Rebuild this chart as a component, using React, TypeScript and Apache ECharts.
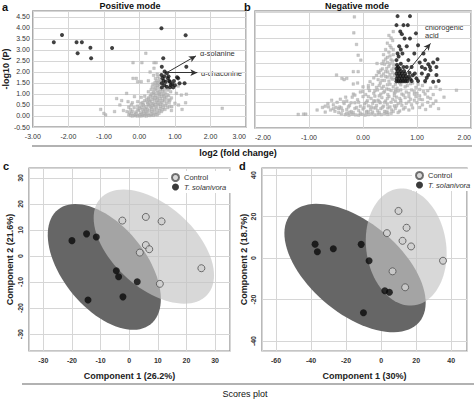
import React, { useEffect, useRef } from "react";
import * as echarts from "echarts";

const FONT = "'Liberation Sans', Arial, sans-serif";

// ---- Panel a: Positive mode (log2 FC, -log10 P)
const posBlack: number[][] = [
  [-2.41, 3.35], [-2.18, 3.68], [-1.77, 3.35], [-1.62, 3.35], [-1.74, 2.85], [-1.38, 3.1], [-1.36, 2.62], [-0.77, 3.09],
  [0.62, 3.99], [1.3, 3.67], [0.67, 2.62], [1.32, 2.24], [0.63, 2.24], [0.71, 2.02], [0.62, 1.86], [0.77, 1.94],
  [0.65, 1.71], [0.8, 1.71], [0.63, 1.49], [0.74, 1.56], [0.86, 1.56], [0.63, 1.3], [0.77, 1.33], [0.97, 1.59],
  [1.09, 1.71], [1.13, 1.49], [1.27, 1.49], [0.84, 1.59], [0.88, 1.41], [0.7, 1.8], [0.92, 1.45], [1.0, 1.4],
  [0.68, 1.6], [0.82, 1.8], [0.95, 1.3], [0.7, 1.4], [0.86, 1.3], [1.06, 1.76],
];
const posGray: number[][] = [
  [-0.3, 0.05], [-0.25, 0.02], [-0.2, 0.0], [-0.15, 0.03], [-0.1, 0.01], [-0.05, 0.0], [0.0, 0.02], [0.05, 0.0], [0.1, 0.03],
  [0.15, 0.01], [0.2, 0.0], [0.25, 0.04], [0.3, 0.02], [0.35, 0.06], [0.4, 0.03], [0.45, 0.08], [0.5, 0.05], [-0.12, 0.08],
  [0.02, 0.07], [0.18, 0.09], [-0.35, 0.2], [-0.28, 0.15], [-0.2, 0.22], [-0.1, 0.18], [-0.02, 0.25], [0.06, 0.15],
  [0.12, 0.22], [0.2, 0.18], [0.28, 0.25], [0.35, 0.2], [0.42, 0.28], [0.5, 0.18], [0.56, 0.25], [0.62, 0.2], [-0.05, 0.3],
  [0.08, 0.3], [0.22, 0.3], [-0.3, 0.4], [-0.15, 0.38], [-0.05, 0.45], [0.05, 0.4], [0.12, 0.48], [0.2, 0.42], [0.27, 0.5],
  [0.33, 0.38], [0.4, 0.45], [0.47, 0.4], [0.53, 0.5], [0.6, 0.42], [0.68, 0.38], [0.15, 0.35], [0.3, 0.44], [-0.2, 0.6],
  [-0.05, 0.65], [0.05, 0.58], [0.15, 0.7], [0.22, 0.62], [0.3, 0.68], [0.36, 0.58], [0.42, 0.72], [0.48, 0.62], [0.55, 0.7],
  [0.62, 0.6], [0.7, 0.68], [0.76, 0.58], [0.4, 0.55], [0.25, 0.75], [0.05, 0.85], [0.15, 0.9], [0.25, 0.82], [0.32, 0.95],
  [0.38, 0.85], [0.45, 0.92], [0.5, 0.82], [0.56, 0.98], [0.62, 0.88], [0.68, 0.95], [0.75, 0.85], [0.82, 0.92], [0.4, 1.0],
  [0.25, 1.1], [0.33, 1.2], [0.4, 1.08], [0.45, 1.25], [0.5, 1.15], [0.55, 1.05], [0.6, 1.22], [0.66, 1.12], [0.72, 1.05],
  [0.8, 1.18], [0.88, 1.1], [0.52, 1.3], [0.38, 1.45], [0.45, 1.38], [0.5, 1.52], [0.55, 1.42], [0.58, 1.58], [0.48, 1.6],
  [0.45, 1.7], [0.52, 1.78], [0.56, 1.68], [0.5, 1.9], [0.4, 1.85], [-1.09, 0.3], [-0.95, 0.05], [-1.0, 0.12], [-0.64, 0.79],
  [-0.36, 1.03], [-0.32, 0.65], [-0.23, 0.5], [-0.14, 0.88], [-0.18, 2.42], [0.07, 2.42], [0.18, 2.85], [0.41, 2.42],
  [0.47, 2.42], [0.41, 2.17], [-0.09, 1.71], [-0.18, 1.71], [-0.05, 1.56], [0.05, 1.56], [2.33, 0.35], [1.32, 0.99],
  [1.09, 1.36], [1.04, 1.03], [1.18, 0.95], [0.86, 0.73], [1.0, 0.58], [0.91, 0.42], [0.8, 0.38], [1.1, 0.5], [1.2, 0.3],
  [0.9, 0.25], [-0.55, 0.5], [-0.7, 0.2], [-0.45, 0.25], [-0.5, 0.7], [0.3, 2.0], [0.25, 1.6], [1.3, 0.6],
  [-0.22, 0.12], [-0.08, 0.1], [0.08, 0.08], [0.22, 0.12], [0.32, 0.1], [0.42, 0.15], [0.55, 0.12], [-0.25, 0.3],
  [0.0, 0.35], [0.18, 0.28], [0.35, 0.3], [0.48, 0.32], [0.58, 0.34], [0.65, 0.28], [0.72, 0.3], [0.1, 0.52], [0.24, 0.55],
  [0.36, 0.48], [0.45, 0.52], [0.58, 0.55], [0.66, 0.5], [0.74, 0.48], [0.1, 0.62], [0.2, 0.75], [0.35, 0.75], [0.5, 0.75],
  [0.6, 0.78], [0.7, 0.78], [0.8, 0.72], [0.3, 0.88], [0.44, 0.82], [0.55, 0.9], [0.7, 0.88], [0.78, 0.98], [0.35, 1.02],
  [0.48, 1.02], [0.62, 1.0], [0.7, 1.2], [0.58, 1.12], [0.42, 1.2], [0.36, 1.32], [0.5, 1.4], [0.44, 1.52], [0.55, 1.5],
  [0.28, 0.62], [0.52, 0.6], [0.64, 0.7], [0.84, 0.62], [0.9, 0.82], [0.78, 1.25], [0.85, 0.45], [0.12, 0.12],
];
const posArrows: number[][] = [[0.77, 1.97, 1.59, 2.73], [0.77, 1.97, 1.63, 1.97]];

// ---- Panel b: Negative mode
const negBlack: number[][] = [
  [0.64, 3.85], [0.87, 3.85], [0.62, 3.5], [0.75, 3.5], [0.83, 3.5], [0.98, 3.18], [0.77, 2.98], [0.87, 2.98], [0.67, 2.68],
  [0.81, 2.68], [1.02, 2.72], [0.64, 2.4], [0.73, 2.4], [0.95, 2.4], [1.12, 2.4], [0.62, 2.14], [0.84, 2.14], [1.15, 2.14],
  [1.38, 2.17], [1.21, 1.98], [0.65, 1.87], [0.75, 1.87], [0.81, 1.87], [0.9, 1.87], [1.09, 1.87], [1.24, 1.87], [1.36, 1.87],
  [1.15, 1.8], [0.96, 1.62], [1.09, 1.62], [1.21, 1.56], [1.36, 1.56], [0.99, 1.43], [1.15, 1.33], [1.3, 1.3], [1.4, 1.33],
  [0.9, 1.33], [1.02, 1.33], [1.25, 1.75], [0.62, 1.32], [0.66, 1.32], [0.7, 1.32], [0.74, 1.32], [0.78, 1.32], [0.82, 1.32],
  [0.62, 1.42], [0.67, 1.42], [0.72, 1.42], [0.77, 1.42], [0.82, 1.42], [0.64, 1.52], [0.69, 1.52], [0.74, 1.52], [0.79, 1.52],
  [0.62, 1.62], [0.67, 1.62], [0.72, 1.62], [0.78, 1.62], [0.64, 1.72], [0.7, 1.72], [0.76, 1.72], [0.62, 1.8], [0.68, 1.8],
  [0.85, 1.5], [0.88, 1.4], [0.86, 1.65], [0.92, 1.55], [0.63, 1.95], [0.7, 2.0], [0.66, 2.28], [0.7, 2.55], [0.72, 3.15],
  [0.69, 3.25], [1.05, 2.05], [1.3, 2.05], [1.18, 1.45],
];
const negGray: number[][] = [
  [-0.4, 0.05], [-0.33, 0.02], [-0.26, 0.0], [-0.2, 0.04], [-0.14, 0.01], [-0.08, 0.0], [-0.02, 0.03], [0.04, 0.0], [0.1, 0.02],
  [0.16, 0.05], [0.22, 0.01], [0.28, 0.04], [0.34, 0.02], [0.4, 0.06], [0.46, 0.03], [0.52, 0.07], [-0.6, 0.2], [-0.52, 0.15],
  [-0.45, 0.25], [-0.38, 0.18], [-0.3, 0.22], [-0.22, 0.14], [-0.15, 0.26], [-0.08, 0.18], [0.0, 0.24], [0.07, 0.15],
  [0.14, 0.22], [0.2, 0.28], [0.27, 0.17], [0.33, 0.25], [0.4, 0.15], [0.46, 0.28], [0.53, 0.2], [0.6, 0.26], [0.68, 0.16],
  [0.75, 0.24], [0.85, 0.2], [1.16, 0.22], [1.05, 0.3], [-0.64, 0.32], [-0.55, 0.4], [-0.43, 0.32], [-0.35, 0.45],
  [-0.25, 0.38], [-0.15, 0.48], [-0.05, 0.35], [0.03, 0.44], [0.1, 0.36], [0.18, 0.46], [0.25, 0.38], [0.32, 0.48],
  [0.38, 0.35], [0.45, 0.42], [0.52, 0.5], [0.58, 0.36], [0.65, 0.45], [0.72, 0.38], [0.8, 0.46], [0.9, 0.4], [1.0, 0.48],
  [-0.58, 0.58], [-0.42, 0.62], [-0.3, 0.55], [-0.2, 0.7], [-0.1, 0.6], [0.0, 0.72], [0.08, 0.56], [0.15, 0.65], [0.22, 0.74],
  [0.28, 0.58], [0.35, 0.68], [0.42, 0.55], [0.48, 0.72], [0.55, 0.62], [0.62, 0.7], [0.7, 0.58], [0.78, 0.68], [0.88, 0.62],
  [0.98, 0.72], [1.1, 0.6], [1.2, 0.7], [-0.18, 0.82], [-0.05, 0.9], [0.05, 0.8], [0.12, 0.95], [0.2, 0.85], [0.27, 0.98],
  [0.33, 0.82], [0.4, 0.92], [0.46, 0.8], [0.52, 0.96], [0.58, 0.86], [0.65, 0.94], [0.72, 0.82], [0.8, 0.9], [0.9, 0.98],
  [1.0, 0.85], [1.12, 0.92], [1.43, 1.0], [1.73, 0.97], [1.3, 0.8], [0.0, 1.1], [0.1, 1.05], [0.18, 1.2], [0.25, 1.08],
  [0.32, 1.25], [0.38, 1.12], [0.44, 1.02], [0.5, 1.2], [0.56, 1.1], [0.63, 1.05], [0.7, 1.18], [0.78, 1.1], [0.88, 1.22],
  [0.98, 1.08], [1.1, 1.15], [1.25, 1.05], [-0.18, 1.21], [-0.1, 1.25], [0.13, 1.3], [0.2, 1.45], [0.28, 1.38], [0.34, 1.52],
  [0.4, 1.35], [0.45, 1.48], [0.5, 1.58], [0.55, 1.4], [0.58, 1.55], [-0.49, 1.56], [-0.39, 1.43], [-0.3, 1.43],
  [-0.35, 1.38], [0.3, 1.65], [0.36, 1.8], [0.42, 1.7], [0.48, 1.9], [0.53, 1.75], [0.57, 1.95], [0.4, 1.98], [-0.18, 1.69],
  [-0.09, 1.69], [0.28, 1.69], [0.26, 2.01], [0.38, 2.1], [0.45, 2.25], [0.52, 2.15], [0.56, 2.35], [-0.09, 2.33],
  [-0.04, 2.14], [0.42, 2.55], [0.5, 2.7], [0.55, 2.9], [0.48, 3.1], [-0.12, 2.75], [-0.17, 3.2], [-0.16, 3.82],
  [-1.2, 0.03], [-1.1, 0.04], [-1.06, 0.04], [-0.85, 0.2], [-0.75, 0.3], [-0.7, 0.12], [1.35, 0.55], [1.5, 0.7],
  [1.25, 0.35], [1.4, 0.25], [0.35, 1.05], [0.6, 0.98], [0.22, 0.55], [-0.25, 0.1], [0.1, 0.12], [0.45, 0.12],
  [-0.45, 0.1], [-0.3, 0.08], [-0.18, 0.1], [-0.05, 0.08], [0.06, 0.1], [0.18, 0.12], [0.3, 0.1], [0.43, 0.12], [0.56, 0.14],
  [0.65, 0.1], [-0.5, 0.3], [-0.4, 0.28], [-0.27, 0.32], [-0.12, 0.3], [0.02, 0.3], [0.15, 0.32], [0.24, 0.28], [0.36, 0.3],
  [0.5, 0.32], [0.62, 0.36], [0.78, 0.3], [0.92, 0.28], [-0.48, 0.5], [-0.36, 0.52], [-0.22, 0.48], [-0.08, 0.5], [0.06, 0.5],
  [0.2, 0.55], [0.3, 0.52], [0.4, 0.5], [0.6, 0.55], [0.7, 0.5], [0.85, 0.52], [0.95, 0.58], [1.05, 0.62], [-0.32, 0.7],
  [-0.15, 0.78], [0.1, 0.72], [0.3, 0.75], [0.45, 0.65], [0.58, 0.76], [0.68, 0.65], [0.75, 0.78], [0.85, 0.72], [0.95, 0.82],
  [1.05, 0.75], [1.15, 0.82], [1.25, 0.65], [0.0, 0.92], [0.22, 0.95], [0.38, 0.88], [0.48, 1.0], [0.6, 0.9], [0.7, 0.98],
  [0.85, 0.85], [0.95, 0.92], [1.05, 1.0], [1.2, 0.95], [0.1, 1.15], [0.3, 1.15], [0.45, 1.18], [0.6, 1.2], [0.68, 1.25],
  [0.82, 1.15], [0.92, 1.25], [1.02, 1.2], [1.15, 1.28], [1.35, 1.1], [0.35, 1.35], [0.48, 1.32], [0.52, 1.45], [0.42, 1.5],
  [0.25, 1.55], [0.38, 1.6], [0.55, 1.65], [0.46, 1.68], [0.33, 1.75], [0.44, 1.82], [0.56, 1.82], [0.5, 2.0], [0.35, 2.0],
  [0.45, 2.05], [0.55, 2.1], [0.42, 2.18], [0.5, 2.3], [0.38, 2.35], [0.48, 2.45], [0.56, 2.55], [0.52, 2.62], [0.45, 2.8],
  [0.52, 3.0], [0.56, 3.25], [-0.65, 0.45], [-0.7, 0.35], [-0.55, 0.25], [1.1, 0.4], [1.2, 0.5], [1.3, 0.45],
];
const negArrows: number[][] = [[0.82, 1.68, 1.25, 2.79]];

// ---- Panels c & d: PCA scores
const cControl: number[][] = [[-2.4, 13.6], [5.8, 15.0], [11.3, 13.3], [5.8, 4.2], [7.0, 2.6], [3.7, 1.3], [25.2, -4.7], [10.7, -10.7]];
const cTs: number[][] = [[-20.0, 5.9], [-14.9, 8.5], [-11.5, 7.3], [-4.5, -5.7], [-3.7, -8.0], [2.8, -9.9], [-14.4, -16.9], [-2.2, -15.7]];
const dControl: number[][] = [[9.9, 22.7], [14.5, 14.6], [3.3, 12.0], [12.2, 8.3], [17.1, 5.6], [35.3, -1.3], [6.5, -6.4], [13.7, -14.1]];
const dTs: number[][] = [[-37.7, 6.7], [-36.4, 3.0], [-27.3, 4.5], [-11.4, 6.6], [-6.9, -1.3], [2.1, -15.8], [4.7, -16.5], [-10.1, -26.4]];
// confidence ellipses: [cx, cy, majorX, majorY, minorX, minorY]
const cEllControl = [8.6, 3.6, 18.6, -18.6, -9.8, -11.6];
const cEllTs = [-8.7, -4.2, 16.2, -22.0, -11.3, -10.0];
const dEllControl = [14.3, 5.3, 4.7, -28.1, -22.6, -2.7];
const dEllTs = [-14.9, -4.8, 36.7, -26.0, -16.7, -16.8];

const gridLine = { show: true, lineStyle: { color: "#d6d6d6", width: 1 } };

function ellipseSeries(idx: number, ell: number[], fill: string) {
  return {
    type: "custom",
    xAxisIndex: idx,
    yAxisIndex: idx,
    silent: true,
    clip: false,
    data: [ell],
    renderItem: (_p: any, api: any) => {
      const cx = api.value(0), cy = api.value(1), ux = api.value(2), uy = api.value(3), vx = api.value(4), vy = api.value(5);
      const pts: number[][] = [];
      for (let k = 0; k < 90; k++) {
        const t = (k / 90) * Math.PI * 2;
        pts.push(api.coord([cx + Math.cos(t) * ux + Math.sin(t) * vx, cy + Math.cos(t) * uy + Math.sin(t) * vy]));
      }
      return { type: "polygon", shape: { points: pts }, style: { fill } };
    },
  };
}

function arrowLines(arr: number[][]) {
  return {
    silent: true,
    symbol: ["none", "arrow"],
    symbolSize: [5, 7],
    lineStyle: { color: "#333", width: 1, type: "solid" },
    label: { show: false },
    emphasis: { disabled: true },
    data: arr.map((a) => [{ coord: [a[0], a[1]] }, { coord: [a[2], a[3]] }]),
  };
}

const volcX = (idx: number, min: number, max: number, extra: any) => ({
  gridIndex: idx, type: "value", min, max, interval: 1,
  axisLine: { show: false }, axisTick: { show: false }, splitLine: gridLine,
  axisLabel: { fontSize: 7, color: "#333", margin: 6, fontFamily: FONT, formatter: (v: number) => v.toFixed(2), ...extra },
});

const pcaLabel = (step: number) => ({
  fontSize: 7, fontWeight: "bold", color: "#333", fontFamily: FONT,
  formatter: (v: number) => (Math.abs(v / step - Math.round(v / step)) < 1e-6 ? String(Math.round(v)) : ""),
});

const nameStyle = { fontSize: 9, fontWeight: "bold", color: "#222", fontFamily: FONT };

const legendBase = {
  data: ["Control", "T. solanivora"],
  orient: "vertical",
  itemGap: 1,
  itemWidth: 7,
  itemHeight: 7,
  icon: "circle",
  padding: [2, 5, 2, 3],
  backgroundColor: "#fff",
  selectedMode: false,
  textStyle: { fontSize: 7.5, color: "#333", fontFamily: FONT, rich: { i: { fontStyle: "italic", fontSize: 7.5, color: "#333", fontFamily: FONT } } },
  formatter: (n: string) => (n === "T. solanivora" ? "{i|" + n + "}" : n),
};

const txt = (text: string, x: number, y: number, size: number, weight: string, align = "left", color = "#111") => ({
  type: "text", x, y, silent: true,
  style: { text, fontSize: size, fontWeight: weight, fontFamily: FONT, fill: color, textAlign: align, align, textVerticalAlign: "middle", verticalAlign: "middle" },
});

const grayStyle = { color: "#bababa", borderColor: "#a2a2a2", borderWidth: 0.4 };

const option: any = {
  animation: false,
  backgroundColor: "#fff",
  grid: [
    { left: 26, top: 11, width: 220, height: 116, show: true, borderColor: "#a0a0a0", borderWidth: 1.5 },
    { left: 255, top: 11, width: 216, height: 117, show: true, borderColor: "#a0a0a0", borderWidth: 1.5 },
    { left: 29, top: 168, width: 201, height: 183, show: true, borderColor: "#8c8c8c", borderWidth: 1.2 },
    { left: 262, top: 168, width: 205, height: 183, show: true, borderColor: "#8c8c8c", borderWidth: 1.2 },
  ],
  xAxis: [
    volcX(0, -3, 3, { alignMaxLabel: "right" }),
    volcX(1, -2, 2, { alignMinLabel: "left", alignMaxLabel: "right" }),
    {
      gridIndex: 2, type: "value", min: -35, max: 35.2, axisLine: { show: false }, axisTick: { show: false }, splitLine: gridLine,
      axisLabel: { ...pcaLabel(10), margin: 6 }, name: "Component 1 (26.2%)", nameLocation: "middle", nameGap: 20, nameTextStyle: nameStyle,
    },
    {
      gridIndex: 3, type: "value", min: -68, max: 49, axisLine: { show: false }, axisTick: { show: false }, splitLine: gridLine,
      axisLabel: { ...pcaLabel(20), margin: 6 }, name: "Component 1 (30%)", nameLocation: "middle", nameGap: 20, nameTextStyle: nameStyle,
    },
  ],
  yAxis: [
    {
      gridIndex: 0, type: "value", min: -0.5, max: 4.77, interval: 0.5, axisLine: { show: false }, axisTick: { show: false }, splitLine: gridLine,
      axisLabel: { fontSize: 7, color: "#333", margin: 3, fontFamily: FONT, formatter: (v: number) => (Math.abs(v * 2 - Math.round(v * 2)) < 1e-6 ? v.toFixed(2) : "") },
      name: "-log10 (P)", nameLocation: "middle", nameRotate: 90, nameGap: 16, nameTextStyle: nameStyle,
    },
    { gridIndex: 1, type: "value", min: -0.5, max: 4.05, interval: 0.5, axisLine: { show: false }, axisTick: { show: false }, splitLine: gridLine, axisLabel: { show: false } },
    {
      gridIndex: 2, type: "value", min: -36.5, max: 33.8, axisLine: { show: false }, axisTick: { show: false }, splitLine: gridLine,
      axisLabel: { ...pcaLabel(10), rotate: 90, margin: 5 }, name: "Component 2 (21.6%)", nameLocation: "middle", nameRotate: 90, nameGap: 15, nameTextStyle: nameStyle,
    },
    {
      gridIndex: 3, type: "value", min: -44.8, max: 43.4, axisLine: { show: false }, axisTick: { show: false }, splitLine: gridLine,
      axisLabel: { ...pcaLabel(20), rotate: 90, margin: 5 }, name: "Component 2 (18.7%)", nameLocation: "middle", nameRotate: 90, nameGap: 14, nameTextStyle: nameStyle,
    },
  ],
  legend: [
    { ...legendBase, left: 168, top: 171 },
    { ...legendBase, left: 412, top: 169 },
  ],
  series: [
    { type: "scatter", xAxisIndex: 0, yAxisIndex: 0, data: posGray, symbol: "rect", symbolSize: 2.6, silent: true, itemStyle: grayStyle },
    { type: "scatter", xAxisIndex: 0, yAxisIndex: 0, data: posBlack, symbolSize: 4, silent: true, itemStyle: { color: "#111" }, markLine: arrowLines(posArrows) },
    { type: "scatter", xAxisIndex: 1, yAxisIndex: 1, data: negGray, symbol: "rect", symbolSize: 2.6, silent: true, itemStyle: grayStyle },
    { type: "scatter", xAxisIndex: 1, yAxisIndex: 1, data: negBlack, symbolSize: 4, silent: true, itemStyle: { color: "#111" }, markLine: arrowLines(negArrows) },
    ellipseSeries(2, cEllTs, "#666666"),
    ellipseSeries(2, cEllControl, "rgba(196,196,196,0.66)"),
    ellipseSeries(3, dEllTs, "#666666"),
    ellipseSeries(3, dEllControl, "rgba(196,196,196,0.66)"),
    { name: "Control", type: "scatter", xAxisIndex: 2, yAxisIndex: 2, data: cControl, symbolSize: 7, itemStyle: { color: "#cfcfcf", borderColor: "#505050", borderWidth: 1 } },
    { name: "T. solanivora", type: "scatter", xAxisIndex: 2, yAxisIndex: 2, data: cTs, symbolSize: 7, itemStyle: { color: "#0a0a0a" } },
    { name: "Control", type: "scatter", xAxisIndex: 3, yAxisIndex: 3, data: dControl, symbolSize: 7, itemStyle: { color: "#cfcfcf", borderColor: "#505050", borderWidth: 1 } },
    { name: "T. solanivora", type: "scatter", xAxisIndex: 3, yAxisIndex: 3, data: dTs, symbolSize: 7, itemStyle: { color: "#0a0a0a" } },
  ],
  graphic: [
    txt("a", 2, 7, 11, "bold"),
    txt("b", 244, 7, 11, "bold"),
    txt("c", 3, 166, 11, "bold"),
    txt("d", 239, 166, 11, "bold"),
    txt("Positive mode", 130, 6, 9, "bold", "center"),
    txt("Negative mode", 357, 6, 9, "bold", "center"),
    txt("α-solanine", 200, 53, 7.5, "normal", "left", "#333"),
    txt("α-chaconine", 201, 73, 7.5, "normal", "left", "#333"),
    txt("chlorogenic", 425, 27, 7.5, "normal", "left", "#333"),
    txt("acid", 425, 35, 7.5, "normal", "left", "#333"),
    txt("log2 (fold change)", 238, 153, 9, "bold", "center"),
    txt("Scores plot", 245, 394, 9, "normal", "center"),
    { type: "line", silent: true, shape: { x1: 32, y1: 146, x2: 472, y2: 146 }, style: { stroke: "#666", lineWidth: 1.2 } },
    { type: "line", silent: true, shape: { x1: 22, y1: 384, x2: 474, y2: 384 }, style: { stroke: "#666", lineWidth: 1.2 } },
  ],
};

export default function App() {
  const ref = useRef<HTMLDivElement>(null);
  useEffect(() => {
    const chart = echarts.init(ref.current!, null, { renderer: "svg" });
    chart.setOption(option);
    return () => chart.dispose();
  }, []);
  return <div ref={ref} style={{ position: "fixed", left: 0, top: 0, width: 474, height: 399, background: "#fff" }} />;
}
